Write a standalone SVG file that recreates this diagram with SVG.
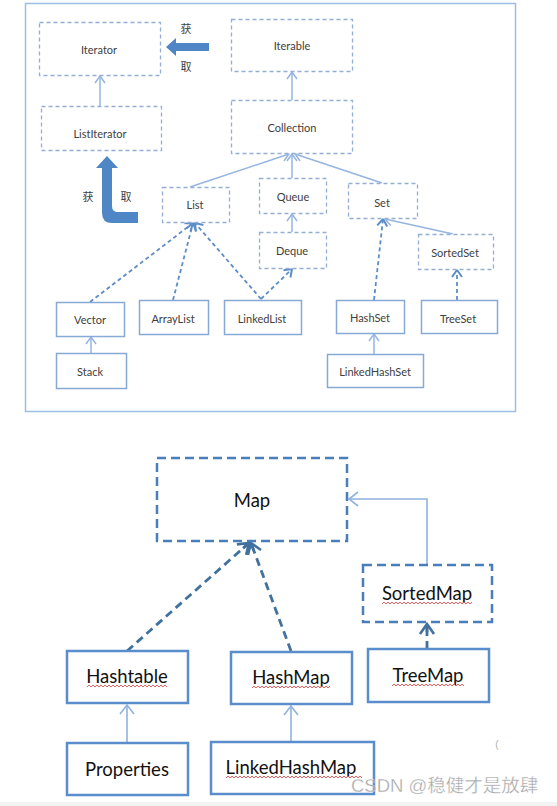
<svg xmlns="http://www.w3.org/2000/svg" width="557" height="806" viewBox="0 0 557 806">
<defs>
<style>
.t{font-family:Lato,"Open Sans","Liberation Sans",sans-serif;font-size:11px;fill:#404040;text-anchor:middle;dominant-baseline:central}
.tb{font-family:Lato,"Open Sans","Liberation Sans",sans-serif;font-size:18.5px;fill:#111;text-anchor:middle;dominant-baseline:central}
.cj{font-family:"Noto Sans CJK SC",sans-serif;font-size:11px;fill:#404040;text-anchor:middle;dominant-baseline:central}
.dbox{fill:#fff;stroke:#94aed6;stroke-width:1.3;stroke-dasharray:4 3}
.sbox{fill:#fff;stroke:#86a9d6;stroke-width:1.5}
.bdbox{fill:#fff;stroke:#4a7ebb;stroke-width:2.5;stroke-dasharray:9 5}
.bsbox{fill:#fff;stroke:#5a8dcb;stroke-width:2.5}
.ln{stroke:#95b5e0;stroke-width:1.5;fill:none}
.dl{stroke:#5d8dc8;stroke-width:1.8;stroke-dasharray:4 3;fill:none}
.bdl{stroke:#41719c;stroke-width:2.8;stroke-dasharray:8 5;fill:none}
.bln{stroke:#8fb2e0;stroke-width:1.6;fill:none}
.wv{stroke:#e05050;stroke-width:0.9;fill:none}
.fat{fill:#4f86c6}
</style>
<marker id="aL" markerUnits="userSpaceOnUse" markerWidth="12" markerHeight="12" viewBox="0 0 12 12" refX="11" refY="6" orient="auto"><path d="M4,1 L11,6 L4,11" fill="none" stroke="#95b5e0" stroke-width="1.5"/></marker>
<marker id="aD" markerUnits="userSpaceOnUse" markerWidth="12" markerHeight="12" viewBox="0 0 12 12" refX="11" refY="6" orient="auto"><path d="M4,1 L11,6 L4,11" fill="none" stroke="#5d8dc8" stroke-width="2"/></marker>
<marker id="aB" markerUnits="userSpaceOnUse" markerWidth="18" markerHeight="18" viewBox="0 0 18 18" refX="16" refY="9" orient="auto"><path d="M6,2 L16,9 L6,16 M8,9 L16,9" fill="none" stroke="#41719c" stroke-width="2.6"/></marker>
<marker id="aT" markerUnits="userSpaceOnUse" markerWidth="18" markerHeight="18" viewBox="0 0 18 18" refX="16" refY="9" orient="auto"><path d="M7,2 L16,9 L7,16" fill="none" stroke="#8fb2e0" stroke-width="1.6"/></marker>
</defs>
<rect x="0" y="0" width="557" height="806" fill="#fff"/>
<rect x="0" y="802" width="557" height="4" fill="#f2f2f2"/>
<rect x="25.5" y="3.5" width="490" height="408" fill="none" stroke="#9dbde3" stroke-width="1.5"/>

<g id="connectors">
<line class="ln" x1="100" y1="106" x2="100" y2="76" marker-end="url(#aL)"/>
<line class="ln" x1="292" y1="100" x2="292" y2="72" marker-end="url(#aL)"/>
<line class="ln" x1="190" y1="187" x2="289" y2="154" marker-end="url(#aL)"/>
<line class="ln" x1="292" y1="178" x2="292" y2="154" marker-end="url(#aL)"/>
<line class="ln" x1="382" y1="183" x2="295" y2="154" marker-end="url(#aL)"/>
<line class="ln" x1="292" y1="232" x2="292" y2="214" marker-end="url(#aL)"/>
<line class="ln" x1="453" y1="234" x2="385" y2="219" marker-end="url(#aL)"/>
<line class="ln" x1="374" y1="354" x2="374" y2="334" marker-end="url(#aL)"/>
<line class="ln" x1="91" y1="353" x2="91" y2="337" marker-end="url(#aL)"/>
<line class="dl" x1="90" y1="302" x2="193" y2="223" marker-end="url(#aD)"/>
<line class="dl" x1="173" y1="300" x2="193" y2="223" marker-end="url(#aD)"/>
<line class="dl" x1="261" y1="299" x2="195" y2="223" marker-end="url(#aD)"/>
<line class="dl" x1="261" y1="299" x2="292" y2="269" marker-end="url(#aD)"/>
<line class="dl" x1="374" y1="300" x2="383" y2="219" marker-end="url(#aD)"/>
<line class="dl" x1="457" y1="300" x2="457" y2="270" marker-end="url(#aD)"/>
<line class="bdl" x1="127" y1="651" x2="249" y2="543" marker-end="url(#aB)"/>
<line class="bdl" x1="291" y1="651" x2="251" y2="543" marker-end="url(#aB)"/>
<line class="bdl" x1="427" y1="649" x2="427" y2="624" marker-end="url(#aB)"/>
<path class="bln" d="M427,565 V499 H349" marker-end="url(#aT)"/>
<line class="bln" x1="127" y1="743" x2="127" y2="705" marker-end="url(#aT)"/>
<line class="bln" x1="291" y1="742" x2="291" y2="706" marker-end="url(#aT)"/>
</g>

<g id="fetch1">
<path class="fat" d="M166,47 L176,38 L176,43 L209,43 L209,51 L176,51 L176,56 Z"/>
<text class="cj" x="186" y="28">获</text>
<text class="cj" x="186" y="66">取</text>
</g>
<g id="fetch2">
<path class="fat" d="M107,156 L118,168 L112,168 L112,206 Q112,212 118,212 L138,212 L138,223 L112,223 Q102,223 102,213 L102,168 L96,168 Z"/>
<text class="cj" x="88" y="196">获</text>
<text class="cj" x="126" y="196">取</text>
</g>

<g id="Iterator"><rect class="dbox" x="39.5" y="22.5" width="121" height="53"/><text class="t" x="99" y="49">Iterator</text></g>
<g id="Iterable"><rect class="dbox" x="231.5" y="19.5" width="121" height="52"/><text class="t" x="292" y="45">Iterable</text></g>
<g id="ListIterator"><rect class="dbox" x="41.5" y="106.5" width="120" height="44"/><text class="t" x="100" y="133">ListIterator</text></g>
<g id="Collection"><rect class="dbox" x="231.5" y="100.5" width="121" height="53"/><text class="t" x="292" y="127">Collection</text></g>
<g id="List"><rect class="dbox" x="162.5" y="187.5" width="67" height="35"/><text class="t" x="195" y="204">List</text></g>
<g id="Queue"><rect class="dbox" x="259.5" y="178.5" width="67" height="35"/><text class="t" x="293" y="196">Queue</text></g>
<g id="Deque"><rect class="dbox" x="259.5" y="232.5" width="67" height="36"/><text class="t" x="292" y="250">Deque</text></g>
<g id="Set"><rect class="dbox" x="348.5" y="183.5" width="69" height="35"/><text class="t" x="382" y="202">Set</text></g>
<g id="SortedSet"><rect class="dbox" x="418.5" y="234.5" width="75" height="35"/><text class="t" x="455" y="252">SortedSet</text></g>
<g id="Vector"><rect class="sbox" x="56.5" y="302.5" width="68" height="34"/><text class="t" x="90" y="319">Vector</text></g>
<g id="Stack"><rect class="sbox" x="56.5" y="353.5" width="70" height="35"/><text class="t" x="90" y="371">Stack</text></g>
<g id="ArrayList"><rect class="sbox" x="139.5" y="300.5" width="69" height="34"/><text class="t" x="173" y="318">ArrayList</text></g>
<g id="LinkedList"><rect class="sbox" x="224.5" y="300.5" width="77" height="34"/><text class="t" x="262" y="318">LinkedList</text></g>
<g id="HashSet"><rect class="sbox" x="336.5" y="300.5" width="68" height="33"/><text class="t" x="370" y="317">HashSet</text></g>
<g id="TreeSet"><rect class="sbox" x="421.5" y="300.5" width="76" height="33"/><text class="t" x="458" y="318">TreeSet</text></g>
<g id="LinkedHashSet"><rect class="sbox" x="327.5" y="354.5" width="96" height="33"/><text class="t" x="375" y="371">LinkedHashSet</text></g>

<g id="Map"><rect class="bdbox" x="157" y="458" width="190" height="83"/><text class="tb" x="252" y="500">Map</text></g>
<g id="SortedMap"><rect class="bdbox" x="363" y="565" width="129" height="57"/><text class="tb" x="427" y="593">SortedMap</text><path class="wv" d="M382,604 l2,-2 l2,2 l2,-2 l2,2 l2,-2 l2,2 l2,-2 l2,2 l2,-2 l2,2 l2,-2 l2,2 l2,-2 l2,2 l2,-2 l2,2 l2,-2 l2,2 l2,-2 l2,2 l2,-2 l2,2 l2,-2 l2,2 l2,-2 l2,2 l2,-2 l2,2 l2,-2 l2,2 l2,-2 l2,2 l2,-2 l2,2 l2,-2 l2,2 l2,-2 l2,2 l2,-2 l2,2 l2,-2 l2,2 l2,-2 l2,2 l2,-2"/></g>
<g id="TreeMap"><rect class="bsbox" x="368" y="649" width="121" height="53"/><text class="tb" x="428" y="675">TreeMap</text><path class="wv" d="M392,686 l2,-2 l2,2 l2,-2 l2,2 l2,-2 l2,2 l2,-2 l2,2 l2,-2 l2,2 l2,-2 l2,2 l2,-2 l2,2 l2,-2 l2,2 l2,-2 l2,2 l2,-2 l2,2 l2,-2 l2,2 l2,-2 l2,2 l2,-2 l2,2 l2,-2 l2,2 l2,-2 l2,2 l2,-2 l2,2 l2,-2 l2,2 l2,-2 l2,2"/></g>
<g id="Hashtable"><rect class="bsbox" x="67" y="651" width="121" height="52"/><text class="tb" x="127" y="676">Hashtable</text><path class="wv" d="M87,687 l2,-2 l2,2 l2,-2 l2,2 l2,-2 l2,2 l2,-2 l2,2 l2,-2 l2,2 l2,-2 l2,2 l2,-2 l2,2 l2,-2 l2,2 l2,-2 l2,2 l2,-2 l2,2 l2,-2 l2,2 l2,-2 l2,2 l2,-2 l2,2 l2,-2 l2,2 l2,-2 l2,2 l2,-2 l2,2 l2,-2 l2,2 l2,-2 l2,2 l2,-2 l2,2 l2,-2 l2,2"/></g>
<g id="HashMap"><rect class="bsbox" x="231" y="652" width="121" height="52"/><text class="tb" x="291" y="677">HashMap</text><path class="wv" d="M252,688 l2,-2 l2,2 l2,-2 l2,2 l2,-2 l2,2 l2,-2 l2,2 l2,-2 l2,2 l2,-2 l2,2 l2,-2 l2,2 l2,-2 l2,2 l2,-2 l2,2 l2,-2 l2,2 l2,-2 l2,2 l2,-2 l2,2 l2,-2 l2,2 l2,-2 l2,2 l2,-2 l2,2 l2,-2 l2,2 l2,-2 l2,2 l2,-2 l2,2 l2,-2 l2,2 l2,-2"/></g>
<g id="Properties"><rect class="bsbox" x="67" y="743" width="121" height="52"/><text class="tb" x="127" y="769">Properties</text></g>
<g id="LinkedHashMap"><rect class="bsbox" x="211" y="742" width="163" height="52"/><text class="tb" x="291" y="767">LinkedHashMap</text><path class="wv" d="M226,778 l2,-2 l2,2 l2,-2 l2,2 l2,-2 l2,2 l2,-2 l2,2 l2,-2 l2,2 l2,-2 l2,2 l2,-2 l2,2 l2,-2 l2,2 l2,-2 l2,2 l2,-2 l2,2 l2,-2 l2,2 l2,-2 l2,2 l2,-2 l2,2 l2,-2 l2,2 l2,-2 l2,2 l2,-2 l2,2 l2,-2 l2,2 l2,-2 l2,2 l2,-2 l2,2 l2,-2 l2,2 l2,-2 l2,2 l2,-2 l2,2 l2,-2 l2,2 l2,-2 l2,2 l2,-2 l2,2 l2,-2 l2,2 l2,-2 l2,2 l2,-2 l2,2 l2,-2 l2,2 l2,-2 l2,2 l2,-2 l2,2 l2,-2 l2,2 l2,-2 l2,2 l2,-2 l2,2"/></g>

<text x="497" y="744" font-family="Liberation Sans,sans-serif" font-size="10" fill="#b0b0b0" text-anchor="middle" dominant-baseline="central">(</text>
<text x="351" y="792" font-family="'Liberation Sans','Noto Sans CJK SC',sans-serif" font-size="18.5" fill="#9a9a9a" stroke="#fff" stroke-width="0.3" fill-opacity="0.9">CSDN @稳健才是放肆</text>
</svg>
